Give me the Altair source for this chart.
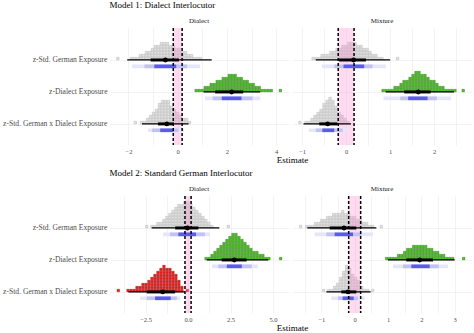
import altair as alt
import pandas as pd

FONT = "Liberation Serif"

model_titles = ["Model 1: Dialect Interlocutor", "Model 2: Standard German Interlocutor"]
panel_titles = ["Dialect", "Mixture"]
predictors = ["z-Std. German Exposure", "z-Dialect Exposure", "z-Std. German x Dialect Exposure"]

# panels: 0 = M1 Dialect, 1 = M1 Mixture, 2 = M2 Dialect, 3 = M2 Mixture
x_lo = [-2.79, -1.23, -4.65, -1.88]
x_hi = [4.52, 2.86, 5.94, 3.52]
x_major = [[-2, 0, 2, 4], [-1, 0, 1, 2], [-2.5, 0, 2.5, 5], [-1, 0, 1, 2, 3]]
x_minor = [[-1, 1, 3], [-0.5, 0.5, 1.5, 2.5], [-3.75, -1.25, 1.25, 3.75], [-1.5, -0.5, 0.5, 1.5, 2.5]]
x_format = ["d", "d", ".1f", "d"]
dot_binwidth = [0.122, 0.068, 0.176, 0.090]

rope = [-0.18, 0.18]

# 12 posteriors: panel by panel, predictor rows in order
effect = ["none", "positive", "none", "none", "positive", "none",
          "none", "positive", "negative", "none", "positive", "none"]
median = [-0.50, 2.19, -0.44, 0.17, 1.64, -0.42, -0.04, 2.72, -1.49, -0.32, 1.95, -0.20]
q_lo95 = [-2.05, 1.05, -1.45, -0.69, 0.90, -0.97, -2.14, 1.10, -3.51, -1.42, 1.00, -0.85]
q_hi95 = [1.38, 3.35, 0.44, 1.00, 2.45, 0.11, 1.84, 4.72, -0.18, 0.65, 3.00, 0.48]
q_lo66 = [-1.10, 1.52, -0.80, -0.16, 1.32, -0.61, -0.76, 1.98, -2.43, -0.75, 1.55, -0.40]
q_hi66 = [0.05, 2.66, -0.15, 0.45, 1.92, -0.20, 0.61, 3.45, -0.76, 0.05, 2.35, 0.05]
hdi_lo95 = [-1.85, 1.10, -1.20, -0.55, 0.85, -0.85, -1.47, 1.41, -2.82, -1.20, 1.15, -0.70]
hdi_hi95 = [0.91, 3.35, 0.25, 0.90, 2.38, 0.05, 1.29, 4.12, -0.47, 0.55, 2.80, 0.30]
hdi_lo80 = [-1.35, 1.42, -1.04, -0.27, 1.23, -0.69, -1.06, 1.78, -2.43, -0.85, 1.45, -0.50]
hdi_hi80 = [0.38, 3.04, 0.03, 0.60, 2.06, -0.08, 1.00, 3.75, -0.66, 0.20, 2.52, 0.10]
hdi_lo50 = [-0.95, 1.79, -0.71, -0.06, 1.41, -0.54, -0.57, 2.28, -1.94, -0.60, 1.70, -0.36]
hdi_hi50 = [-0.06, 2.59, -0.17, 0.41, 1.85, -0.27, 0.47, 3.16, -1.02, -0.05, 2.25, -0.03]

dot_start = [-1.88, 0.75, -1.47, -0.75, 0.84, -0.91, -2.12, 1.06, -3.53, -1.44, 0.96, -0.78]
dot_counts = [
    [1, 1, 1, 2, 2, 3, 3, 4, 5, 5, 6, 6, 6, 5, 5, 4, 4, 3, 3, 2, 2, 1, 1, 1],
    [1, 1, 1, 2, 2, 3, 3, 4, 4, 5, 5, 6, 6, 6, 5, 5, 4, 4, 3, 3, 2, 2, 1, 1, 1, 1],
    [1, 1, 2, 3, 4, 5, 7, 8, 8, 8, 6, 5, 4, 3, 2, 2, 1],
    [1, 1, 1, 2, 2, 2, 3, 3, 4, 4, 5, 5, 6, 6, 6, 5, 5, 4, 4, 3, 2, 2, 1, 1],
    [1, 1, 1, 1, 2, 2, 3, 4, 4, 5, 6, 7, 7, 6, 6, 5, 4, 4, 3, 2, 2, 1, 1, 1, 1],
    [1, 1, 2, 3, 4, 5, 7, 8, 9, 8, 6, 4, 3, 2, 1],
    [1, 1, 2, 2, 3, 4, 5, 6, 7, 8, 8, 9, 9, 8, 7, 6, 5, 4, 3, 2, 1],
    [1, 1, 2, 3, 4, 5, 6, 7, 8, 9, 9, 8, 7, 6, 5, 4, 3, 3, 2, 2, 1, 1],
    [1, 1, 1, 2, 2, 3, 3, 4, 5, 6, 7, 8, 9, 8, 8, 7, 6, 4, 2],
    [1, 1, 1, 2, 2, 3, 3, 4, 4, 5, 5, 5, 6, 5, 5, 4, 4, 3, 3, 2, 2, 1, 1],
    [1, 1, 1, 1, 2, 2, 3, 4, 4, 5, 5, 5, 5, 5, 4, 4, 3, 3, 2, 2, 1, 1, 1],
    [1, 1, 2, 3, 5, 7, 9, 8, 6, 5, 4, 2, 1, 1],
]
dot_outliers = [[-2.43], [4.17], [-1.72], [1.17], [2.66], [-1.05],
                [-2.43, 2.37], [5.45], [-4.10, -0.04], [-1.62, 0.80], [3.27], [-0.93, 0.54]]

# ---------- tables ----------
DOT_STEP = 0.094  # one dot height, in row units
dot_rows, int_rows, hdi_rows = [], [], []
for i in range(12):
    p, r = divmod(i, 3)
    for j, c in enumerate(dot_counts[i]):
        for k in range(c):
            dot_rows.append(dict(panel=p, row=r, effect=effect[i],
                                 x=dot_start[i] + j * dot_binwidth[p], level=k))
    for xo in dot_outliers[i]:
        dot_rows.append(dict(panel=p, row=r, effect=effect[i], x=xo, level=0))
    int_rows.append(dict(panel=p, row=r, median=median[i], lo95=q_lo95[i], hi95=q_hi95[i],
                         lo66=q_lo66[i], hi66=q_hi66[i]))
    for w, lo, hi in [("95%", hdi_lo95[i], hdi_hi95[i]), ("80%", hdi_lo80[i], hdi_hi80[i]),
                      ("50%", hdi_lo50[i], hdi_hi50[i])]:
        hdi_rows.append(dict(panel=p, row=r, width=w, lo=lo, hi=hi))

dots = pd.DataFrame(dot_rows)
dots["y"] = dots["row"] - (dots["level"] + 0.45) * DOT_STEP
ints = pd.DataFrame(int_rows)
hdis = pd.DataFrame(hdi_rows)
hdis["yb"] = hdis["row"] + 0.2
rope_band = pd.DataFrame({"lo": [rope[0]], "hi": [rope[1]]})
rope_lines = pd.DataFrame({"v": rope})

ylabel_expr = "[" + ",".join("'" + s + "'" for s in predictors) + "][datum.value]"


def make_panel(p):
    m, c = divmod(p, 2)
    xs = alt.Scale(domain=[x_lo[p], x_hi[p]], nice=False, zero=False)
    ys = alt.Scale(domain=[-1.0, 2.66], reverse=True, nice=False, zero=False)
    majors = x_major[p]
    lexpr = f"indexof({majors}, datum.value) >= 0 ? format(datum.value, '{x_format[p]}') : ''"
    common = dict(values=sorted(majors + x_minor[p]), labelExpr=lexpr, grid=True,
                  labelFontSize=6.5, labelColor="#4d4d4d", labelPadding=3)
    if c == 0:
        xaxis = alt.Axis(title="Estimate", titleX=183, titleFontSize=9, titleFontWeight="normal",
                         titleColor="black", titlePadding=1, **common)
        yaxis = alt.Axis(values=[0, 1, 2], labelExpr=ylabel_expr, title=None, labelFontSize=7.6,
                         labelColor="#4d4d4d", labelPadding=2, grid=True)
    else:
        xaxis = alt.Axis(title=None, **common)
        yaxis = alt.Axis(values=[0, 1, 2], labels=False, title=None, grid=True)

    X = lambda f: alt.X(f, scale=xs, axis=xaxis)
    Y = lambda f: alt.Y(f, scale=ys, axis=yaxis)

    dotl = alt.Chart(dots[dots.panel == p]).mark_point(
        shape="square", filled=True, size=6.5, strokeWidth=0.35, opacity=1
    ).encode(
        x=X("x:Q"), y=Y("y:Q"),
        fill=alt.Fill("effect:N", scale=alt.Scale(domain=["none", "positive", "negative"],
                                                  range=["#e2e2e2", "#47c91c", "#ee1c1c"]), legend=None),
        stroke=alt.Stroke("effect:N", scale=alt.Scale(domain=["none", "positive", "negative"],
                                                      range=["#a6a6a6", "#245f10", "#8a0a0a"]), legend=None),
    )
    band = alt.Chart(rope_band).mark_rect(color="#ff8fd6", opacity=0.32).encode(
        x=X("lo:Q"), x2="hi:Q")
    hdil = alt.Chart(hdis[hdis.panel == p]).mark_rule(strokeWidth=3.6).encode(
        x=X("lo:Q"), x2="hi:Q", y=Y("yb:Q"),
        color=alt.Color("width:N", scale=alt.Scale(domain=["95%", "80%", "50%"],
                                                   range=["#e6e6fa", "#c2c2f3", "#5a5aee"]), legend=None),
    )
    isub = ints[ints.panel == p]
    thin = alt.Chart(isub).mark_rule(color="black", strokeWidth=1.3).encode(
        x=X("lo95:Q"), x2="hi95:Q", y=Y("row:Q"))
    thick = alt.Chart(isub).mark_rule(color="black", strokeWidth=3).encode(
        x=X("lo66:Q"), x2="hi66:Q", y=Y("row:Q"))
    pt = alt.Chart(isub).mark_point(filled=True, color="black", size=24, opacity=1).encode(
        x=X("median:Q"), y=Y("row:Q"))
    dashed = alt.Chart(rope_lines).mark_rule(color="black", strokeDash=[3, 2], strokeWidth=1.5).encode(
        x=X("v:Q"))
    return alt.layer(dotl, band, hdil, thin, thick, pt, dashed).properties(
        width=180, height=117,
        title=alt.TitleParams(panel_titles[c], fontSize=7, font=FONT, fontWeight="normal",
                              color="#1a1a1a", offset=3),
    )


blocks = []
for m in range(2):
    blocks.append(
        alt.hconcat(make_panel(2 * m), make_panel(2 * m + 1), spacing=3, bounds="flush").properties(
            title=alt.TitleParams(model_titles[m], anchor="start", fontSize=9, font=FONT,
                                  fontWeight="normal", color="black", offset=7, dx=107)
        )
    )

chart = alt.vconcat(blocks[0], blocks[1], spacing=4).properties(
    padding={"left": 2, "top": 1, "right": 0, "bottom": 0}
).configure_view(stroke=None).configure_axis(
    domain=False, ticks=False, gridColor="#ebebeb", gridWidth=0.6, labelFont=FONT, titleFont=FONT
).configure_title(font=FONT)

chart.save("out.html", embed_options={"renderer": "svg", "actions": False})
